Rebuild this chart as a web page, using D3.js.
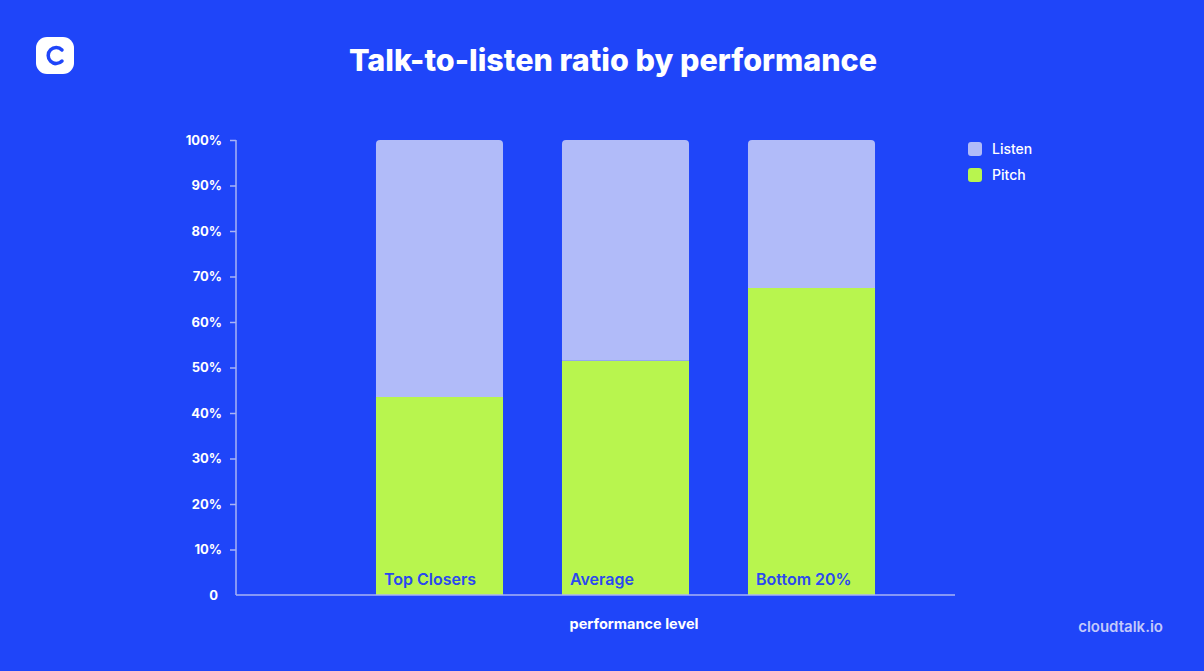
<!DOCTYPE html>
<html>
<head>
<meta charset="utf-8">
<script src="https://cdn.jsdelivr.net/npm/d3@7"></script>
<style>
  html, body { margin: 0; padding: 0; background: #1f45f9; }
  svg { display: block; font-family: Inter, 'Noto Sans', sans-serif; }
</style>
</head>
<body>
<div id="viz"></div>
<script>
const categories = ['Top Closers', 'Average', 'Bottom 20%']
const pitch = [43.5, 51.5, 67.5]
const listen = [56.5, 48.5, 32.5]
const seriesNames = ['Listen', 'Pitch']
const yTicks = [0, 10, 20, 30, 40, 50, 60, 70, 80, 90, 100]

const width = 1204,
    height = 671

const colors = {
    bg: '#1f45f9',
    listen: '#b1bbf9',
    pitch: '#b8f54e',
    axis: '#a9b3f5',
    barText: '#2a48f0'
}

const data = categories.map((c, i) => ({ cat: c, Pitch: pitch[i], Listen: listen[i] }))

const svg = d3.select('#viz').append('svg')
    .attr('width', width)
    .attr('height', height)
    .attr('viewBox', [0, 0, width, height])

svg.append('rect')
    .attr('width', width)
    .attr('height', height)
    .attr('fill', colors.bg)

// logo
const logo = svg.append('g').attr('transform', 'translate(36, 37)')
logo.append('rect')
    .attr('width', 38)
    .attr('height', 37)
    .attr('rx', 11)
    .attr('fill', '#fff')
logo.append('path')
    .attr('d', 'M26 13 A8 8 0 1 0 26 24')
    .attr('fill', 'none')
    .attr('stroke', colors.bg)
    .attr('stroke-width', 3.5)
    .attr('stroke-linecap', 'round')
logo.append('path')
    .attr('d', 'M17.5 25.5 L19 29 L20.5 25.5 Z')
    .attr('fill', colors.bg)

// title
svg.append('text')
    .attr('x', 613)
    .attr('y', 71)
    .attr('text-anchor', 'middle')
    .attr('fill', '#fff')
    .style('font-size', '30.5px')
    .style('font-weight', 800)
    .text('Talk-to-listen ratio by performance')

const axisX0 = 236,
    axisX1 = 955

const y = d3.scaleLinear()
    .domain([0, 100])
    .range([595, 140])

const x = d3.scaleBand()
    .domain(categories)
    .range([346.5, 904.5])
    .paddingInner(0.317)
    .paddingOuter(0.1585)

const stack = d3.stack().keys(['Pitch', 'Listen'])(data)

const barPath = (x0, w, yTop, yBot, r) =>
    `M${x0},${yBot}V${yTop + r}Q${x0},${yTop} ${x0 + r},${yTop}H${x0 + w - r}Q${x0 + w},${yTop} ${x0 + w},${yTop + r}V${yBot}Z`

const g = svg.append('g')

g.selectAll('g.layer').data(stack)
    .enter()
    .append('g')
    .attr('class', 'layer')
    .attr('fill', d => d.key === 'Pitch' ? colors.pitch : colors.listen)
    .selectAll('path')
    .data(d => d.map(v => ({ v, key: d.key })))
    .enter()
    .append('path')
    .attr('d', d => {
        const r = d.key === 'Listen' ? 4 : 0
        return barPath(x(d.v.data.cat), x.bandwidth(), y(d.v[1]), y(d.v[0]), r)
    })

// bar labels
g.selectAll('text.cat').data(categories)
    .enter()
    .append('text')
    .attr('class', 'cat')
    .attr('x', d => x(d) + 8)
    .attr('y', 585)
    .attr('fill', colors.barText)
    .style('font-size', '16px')
    .style('font-weight', 600)
    .text(d => d)

// y axis
const yAxis = d3.axisLeft(y)
    .tickValues(yTicks)
    .tickSize(6)
    .tickPadding(8)
    .tickFormat(d => d === 0 ? '0' : d + '%')

const yAxisG = svg.append('g')
    .attr('transform', `translate(${axisX0}, 0)`)
    .call(yAxis)
yAxisG.select('.domain').remove()
yAxisG.selectAll('.tick line').attr('stroke', colors.axis).attr('stroke-width', 1.5)
yAxisG.selectAll('.tick text')
    .attr('fill', '#fff')
    .style('font-size', '13px')
    .style('font-weight', 700)
    .style('font-family', 'Inter, sans-serif')
yAxisG.selectAll('.tick').filter(d => d === 0).select('text').attr('dx', -4)
yAxisG.selectAll('.tick').filter(d => d === 0).select('line').remove()

svg.append('line')
    .attr('x1', axisX0).attr('x2', axisX0)
    .attr('y1', y(100)).attr('y2', y(0))
    .attr('stroke', colors.axis)
    .attr('stroke-width', 1.5)
svg.append('line')
    .attr('x1', axisX0).attr('x2', axisX1)
    .attr('y1', y(0)).attr('y2', y(0))
    .attr('stroke', colors.axis)
    .attr('stroke-width', 1.5)

// axis title
svg.append('text')
    .attr('x', 634)
    .attr('y', 629)
    .attr('text-anchor', 'middle')
    .attr('fill', '#fff')
    .style('font-size', '14.5px')
    .style('font-weight', 700)
    .text('performance level')

// legend
const legend = svg.append('g').attr('transform', 'translate(968, 142)')
const legendItems = legend.selectAll('g').data(seriesNames)
    .enter()
    .append('g')
    .attr('transform', (d, i) => `translate(0, ${i * 26})`)
legendItems.append('rect')
    .attr('width', 14)
    .attr('height', 14)
    .attr('rx', 3)
    .attr('fill', d => d === 'Pitch' ? colors.pitch : colors.listen)
legendItems.append('text')
    .attr('x', 24)
    .attr('y', 12)
    .attr('fill', '#fff')
    .style('font-size', '14px')
    .style('font-weight', 500)
    .text(d => d)

// brand
svg.append('text')
    .attr('x', 1163)
    .attr('y', 632)
    .attr('text-anchor', 'end')
    .attr('fill', '#c3c9fb')
    .style('font-size', '15px')
    .style('font-weight', 600)
    .text('cloudtalk.io')
</script>
</body>
</html>
